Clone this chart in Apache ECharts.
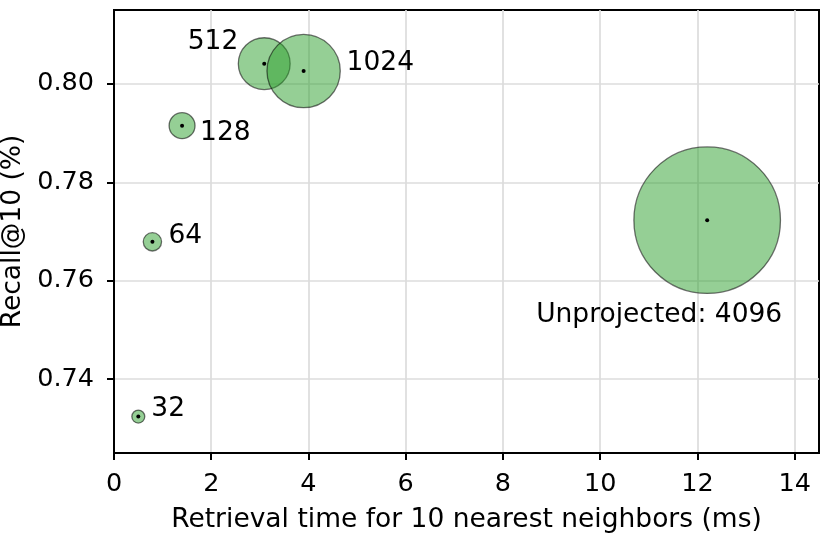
<!DOCTYPE html>
<html>
<head>
<meta charset="utf-8">
<script src="https://cdn.jsdelivr.net/npm/echarts@6/dist/echarts.min.js"></script>
<style>
html,body{margin:0;padding:0;background:#fff;}
#chart{width:832px;height:536px;}
</style>
</head>
<body>
<div id="chart"></div>
<script>
// ---- data ----
const dims = [32, 64, 128, 512, 1024, 4096];
const pointLabels = ['32', '64', '128', '512', '1024', 'Unprojected: 4096'];
const retrievalMs = [0.50, 0.79, 1.40, 3.09, 3.90, 12.20];
const recallAt10 = [0.7324, 0.7679, 0.7915, 0.8041, 0.8026, 0.7723];
const xTicks = [0, 2, 4, 6, 8, 10, 12, 14];
const yTicks = [0.74, 0.76, 0.78, 0.80];

// ---- style (label placement, px offsets from the dot's right edge) ----
const labelStyle = [
  { align: 'left', offset: [11, -7] },
  { align: 'left', offset: [14, -6] },
  { align: 'left', offset: [16, 7] },
  { align: 'right', offset: [-28, -22] },
  { align: 'left', offset: [41, -8] },
  { align: 'center', offset: [-50, 95] }
];

const FONT = 'DejaVu Sans';
const points = retrievalMs.map((t, i) => [t, recallAt10[i], dims[i]]);

const chart = echarts.init(document.getElementById('chart'), null, { renderer: 'canvas' });
chart.setOption({
  backgroundColor: '#fff',
  animation: false,
  grid: {
    left: 114, right: 13, top: 10, bottom: 83,
    containLabel: false, outerBoundsMode: 'none',
    show: true, borderColor: '#000', borderWidth: 2, backgroundColor: 'transparent'
  },
  xAxis: {
    type: 'value', min: 0, max: 14.5,
    name: 'Retrieval time for 10 nearest neighbors (ms)',
    nameLocation: 'middle', nameGap: 54,
    nameTextStyle: { fontFamily: FONT, fontSize: 26.5, color: '#000' },
    axisLine: { show: true, lineStyle: { color: '#000', width: 2 } },
    axisTick: { show: true, length: 7, lineStyle: { color: '#000', width: 2 }, customValues: xTicks },
    axisLabel: { fontFamily: FONT, fontSize: 25.5, color: '#000', margin: 18, customValues: xTicks },
    splitLine: { show: true, lineStyle: { color: '#dcdcdc', width: 1.7 } }
  },
  yAxis: {
    type: 'value', min: 0.725, max: 0.815,
    name: 'Recall@10 (%)',
    nameLocation: 'middle', nameGap: 85,
    nameTextStyle: { fontFamily: FONT, fontSize: 26.5, color: '#000' },
    axisLine: { show: true, lineStyle: { color: '#000', width: 2 } },
    axisTick: { show: true, length: 7, lineStyle: { color: '#000', width: 2 }, customValues: yTicks },
    axisLabel: {
      fontFamily: FONT, fontSize: 25.5, color: '#000', margin: 20, customValues: yTicks,
      formatter: v => v.toFixed(2)
    },
    splitLine: { show: true, lineStyle: { color: '#dcdcdc', width: 1.7 } }
  },
  series: [
    {
      type: 'scatter',
      data: points,
      symbolSize: v => 2.29 * Math.sqrt(v[2]),
      itemStyle: { color: 'rgba(44,160,44,0.5)', borderColor: 'rgba(0,0,0,0.55)', borderWidth: 1.3, opacity: 1 },
      emphasis: { disabled: true },
      z: 2
    },
    {
      type: 'scatter',
      data: points.map((p, i) => ({
        value: [p[0], p[1]],
        label: {
          show: true,
          position: 'right',
          distance: 0,
          formatter: pointLabels[i],
          align: labelStyle[i].align,
          verticalAlign: 'middle',
          offset: labelStyle[i].offset
        }
      })),
      symbolSize: 4,
      itemStyle: { color: '#000', opacity: 1 },
      label: {
        fontFamily: FONT, fontSize: 26.5, color: '#000', opacity: 1,
        textBorderWidth: 0, textShadowBlur: 0
      },
      emphasis: { disabled: true },
      z: 3
    }
  ]
});
</script>
</body>
</html>
